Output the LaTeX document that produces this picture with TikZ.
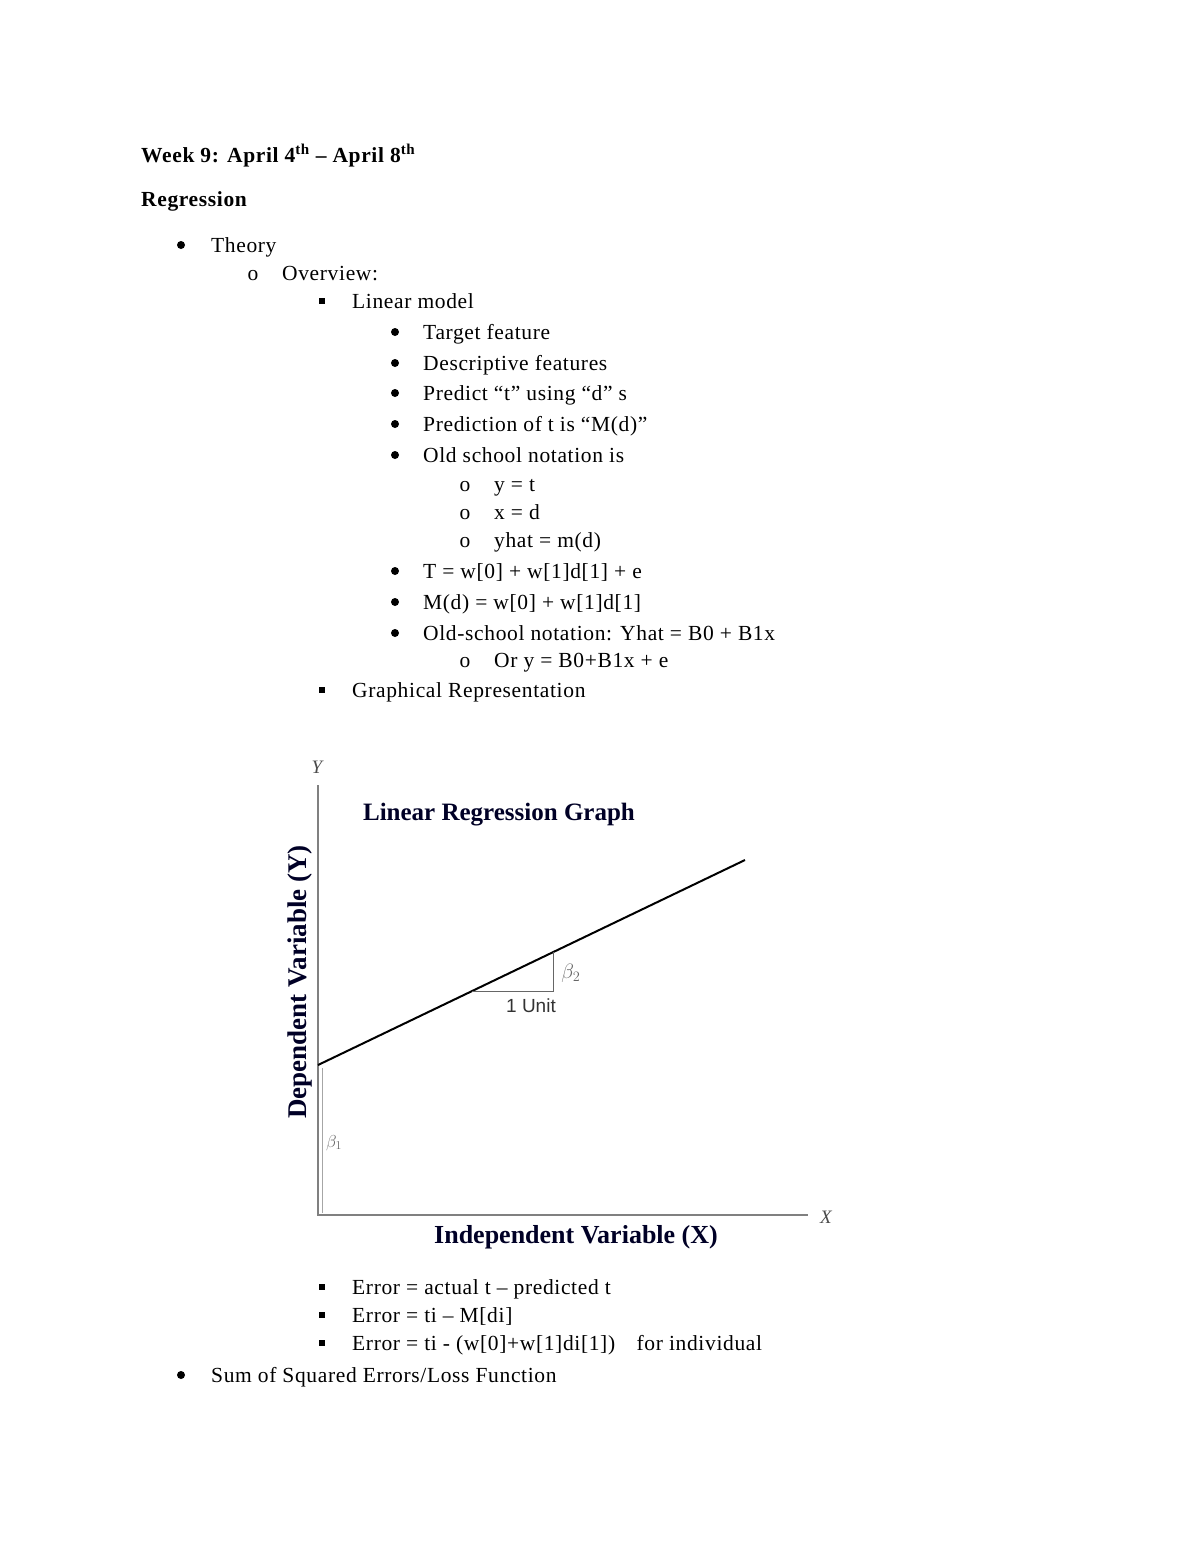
\documentclass[tikz,border=0pt]{standalone}
\usepackage{fontspec}
\setmainfont{Liberation Serif}[LetterSpace=3]
\newfontfamily\sansf{Liberation Sans}
\newfontfamily\gserif{Liberation Serif}
\begin{document}
\begin{tikzpicture}[x=1pt,y=-1pt,
  txt/.style={anchor=base west,inner sep=0pt,font=\fontsize{21.5}{24}\selectfont},
  btxt/.style={txt,font=\fontsize{21.5}{24}\selectfont\bfseries},
  dotb/.style={circle,fill=black,inner sep=0pt,minimum size=8pt},
  sqb/.style={rectangle,fill=black,inner sep=0pt,minimum size=6pt},
  ob/.style={anchor=base,inner sep=0pt,font=\fontsize{21.5}{24}\selectfont},
  gtxt/.style={font=\gserif\fontsize{25}{28}\selectfont\bfseries,text=black!85!blue,inner sep=0pt}]
\useasboundingbox (0,0) rectangle (1200,1553);
\fill[white] (0,0) rectangle (1200,1553);
\node[btxt] (w) at (141,162) {Week 9: April 4\textsuperscript{th} -- April 8\textsuperscript{th}};
\node[btxt] (r) at (141,206) {Regression};
\node[dotb] (b1) at (181,245) {}; \node[txt] (t1) at (211,252) {Theory};
\node[ob] (b2) at (253,280) {o}; \node[txt] (t2) at (282,280) {Overview:};
\node[sqb] (b3) at (322,301) {}; \node[txt] (t3) at (352,308) {Linear model};
\foreach \y/\t [count=\i] in {332/Target feature,363/Descriptive features,393/{Predict “t” using “d” s},424/{Prediction of t is “M(d)”},455/Old school notation is}{
  \node[dotb] (d\i) at (395,\y) {}; \node[txt] (dt\i) at (423,\y+7) {\t};}
\foreach \y/\t [count=\i] in {484/y = t,512/x = d,540/yhat = m(d)}{
  \node[ob] (o\i) at (465,\y+7) {o}; \node[txt] (ot\i) at (494,\y+7) {\t};}
\foreach \y/\t [count=\i] in {571/{T = w[0] + w[1]d[1] + e},602/{M(d) = w[0] + w[1]d[1]},633/{Old-school notation: Yhat = B0 + B1x}}{
  \node[dotb] (e\i) at (395,\y) {}; \node[txt] (et\i) at (423,\y+7) {\t};}
\node[ob] (o4) at (465,667) {o}; \node[txt] (ot4) at (494,667) {Or y = B0+B1x + e};
\node[sqb] (s2) at (322,690) {}; \node[txt] (st2) at (352,697) {Graphical Representation};
\coordinate (O) at (318,1215);
\coordinate (Yt) at (318,785);
\coordinate (Xe) at (808,1215);
\coordinate (L0) at (318,1065);
\coordinate (L1) at (745,860);
\coordinate (A) at (472,991);
\coordinate (B) at (553,991);
\coordinate (C) at (553,952);
\draw[black!50,line width=1.5pt] (Yt) -- (O) -- (Xe);
\draw[black!35,line width=1pt] (322,1068) -- (322,1213);
\draw[line width=2pt] (L0) -- (L1);
\draw[black!60,line width=1pt] (A) -- (B) -- (C);
\node[font=\gserif\fontsize{19}{20}\selectfont\itshape,text=black!70] (yl) at (317,767) {Y};
\node[font=\gserif\fontsize{19}{20}\selectfont\itshape,text=black!70] (xl) at (826,1217) {X};
\node[gtxt] (title) at (499,815) {Linear Regression Graph};
\node[gtxt,rotate=90,font=\gserif\fontsize{27}{28}\selectfont\bfseries] (dv) at (300,982) {Dependent Variable (Y)};
\node[gtxt,font=\gserif\fontsize{26}{28}\selectfont\bfseries] (iv) at (576,1237) {Independent Variable (X)};
\node[font=\sansf\fontsize{19}{20}\selectfont,text=black!80] (unit) at (531,1006) {1 Unit};
\node[font=\fontsize{20}{20}\selectfont,text=black!60] (b2l) at (571,973) {$\beta_2$};
\node[font=\fontsize{17}{18}\selectfont,text=black!60] (b1l) at (334,1143) {$\beta_1$};
\foreach \y/\t [count=\i] in {1287/{Error = actual t -- predicted t},1315/{Error = ti -- M[di]},1343/{Error = ti - (w[0]+w[1]di[1])\quad for individual}}{
  \node[sqb] (q\i) at (322,\y) {}; \node[txt] (qt\i) at (352,\y+7) {\t};}
\node[dotb] (b9) at (181,1375) {}; \node[txt] (t9) at (211,1382) {Sum of Squared Errors/Loss Function};
\end{tikzpicture}
\end{document}
